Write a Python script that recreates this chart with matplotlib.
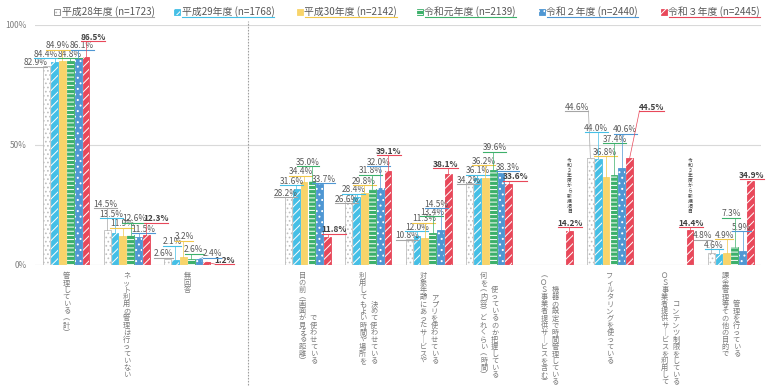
import numpy as np
import matplotlib.pyplot as plt
from matplotlib.lines import Line2D
from matplotlib.patches import Rectangle
from matplotlib.transforms import IdentityTransform

plt.rcParams['font.family'] = ['Noto Sans CJK JP', 'DejaVu Sans']
plt.rcParams['hatch.linewidth'] = 0.7

# ---- data (%), None = 項目なし ----
SERIES = ['平成28年度 (n=1723)', '平成29年度 (n=1768)', '平成30年度 (n=2142)',
          '令和元年度 (n=2139)', '令和２年度 (n=2440)', '令和３年度 (n=2445)']

# 縦書きラベル (列ごと、左→右)
CATEGORIES = [
    ['管理している（計）'],
    ['ネット利用の管理は行っていない'],
    ['無回答'],
    ['目の前（画面が見える距離）', 'で使わせている'],
    ['利用してもよい時間や場所を', '決めて使わせている'],
    ['対象年齢にあったサービスや', 'アプリを使わせている'],
    ['何を（内容）どれくらい（時間）', '使っているのか把握している'],
    ['（ＯＳ事業者提供サービスを含む）', '機器の設定で時間管理している'],
    ['フィルタリングを使っている'],
    ['ＯＳ事業者提供サービスを利用して', 'コンテンツ制限をしている'],
    ['課金管理等その他の目的で', '管理を行っている'],
]
SLOTS = [0, 1, 2, 4, 5, 6, 7, 8, 9, 10, 11]   # 3 は区切り線

H28 = [82.9, 14.5, 2.6, 28.2, 26.6, 10.8, 34.2, None, 44.6, None, 4.8]
H29 = [84.4, 13.5, 2.1, 31.6, 28.4, 12.0, 36.1, None, 44.0, None, 4.6]
H30 = [84.9, 11.9, 3.2, 34.4, 29.8, 11.3, 36.2, None, 36.8, None, 4.9]
R1 = [84.8, 12.6, 2.6, 35.0, 31.8, 13.4, 39.6, None, 37.4, None, 7.3]
R2 = [86.1, 11.5, 2.4, 33.7, 32.0, 14.5, 38.3, None, 40.6, None, 5.9]
R3 = [86.5, 12.3, 1.2, 11.8, 39.1, 38.1, 33.6, 14.2, 44.5, 14.4, 34.9]
VALUES = [H28, H29, H30, R1, R2, R3]

NEW_ITEM_NOTE = '令和３年度から新規項目'

# ---- style ----
FACE = ['#FFFFFF', '#45BFE6', '#F8D46A', '#3DB06B', '#4F97D3', '#E8485A']
EDGE = ['#BFBFBF', '#45BFE6', '#F8D46A', '#3DB06B', '#4F97D3', '#E8485A']
HATCH = ['....', '////', None, '----', '...', '////']
HATCH_COL = ['#BFBFBF', '#FFFFFF', None, '#FFFFFF', '#FFFFFF', '#FFFFFF']
ULINE = ['#A6A6A6', '#45BFE6', '#F2C84B', '#3DB06B', '#4F97D3', '#E8485A']
TXT = '#595959'

# data-label layout: (x offset from group centre, label centre in %)
LABEL_DX = [
    [-0.51, -0.35, -0.14, 0.06, 0.26, 0.44],
    [-0.35, -0.26, -0.08, 0.12, 0.28, 0.48],
    [-0.39, -0.25, -0.05, 0.11, 0.41, 0.62],
    [-0.37, -0.27, -0.12, 0.00, 0.26, 0.43],
    [-0.36, -0.24, -0.07, 0.04, 0.17, 0.34],
    [-0.36, -0.20, -0.08, 0.05, 0.13, 0.28],
    [-0.34, -0.19, -0.09, 0.09, 0.31, 0.43],
    [None, None, None, None, None, 0.34],
    [-0.55, -0.23, -0.08, 0.08, 0.25, 0.69],
    [None, None, None, None, None, 0.34],
    [-0.46, -0.28, -0.11, 0.00, 0.18, 0.35],
]
LABEL_Y = [
    [84.2, 87.9, 91.3, 87.9, 91.3, 95.0],
    [25.4, 21.2, 17.1, 19.2, 15.0, 19.2],
    [4.6, 9.6, 11.7, 6.3, 4.6, 1.9],
    [30.0, 35.0, 38.8, 42.9, 35.8, 14.6],
    [27.5, 31.3, 35.0, 39.2, 42.9, 47.5],
    [12.1, 15.8, 19.2, 22.0, 25.4, 42.0],
    [35.4, 39.2, 43.3, 48.8, 40.8, 36.7],
    [None, None, None, None, None, 17.5],
    [65.8, 57.0, 47.0, 52.5, 56.3, 65.8],
    [None, None, None, None, None, 17.5],
    [12.1, 8.3, 12.5, 21.3, 15.8, 37.5],
]

STEP = 0.13
WIDTH = 0.112

fig = plt.figure(figsize=(7.68, 3.9), dpi=100)
ax = fig.add_axes([35 / 768, 125 / 390, 726 / 768, 240 / 390])
ax.set_xlim(-0.52, 11.5)
ax.set_ylim(0, 1)
for s in ax.spines.values():
    s.set_visible(False)
ax.set_xticks([])
ax.set_yticks([0, 0.5, 1.0])
ax.set_yticklabels(['0%', '50%', '100%'])
ax.tick_params(axis='y', length=0, pad=6, labelsize=6, labelcolor='#7F7F7F')
for yv in (0.5, 1.0):
    ax.axhline(yv, color='#D9D9D9', lw=0.8, zorder=0)
ax.axhline(0, color='#C8C8C8', lw=0.8, zorder=3)

# separator
ax.plot([3, 3], [-0.5, 1.015], transform=ax.get_xaxis_transform(), clip_on=False,
        color='#A0A0A0', lw=0.8, ls=(0, (1.5, 1.2)), zorder=1)

# bars
for i, vals in enumerate(VALUES):
    xs = [SLOTS[c] + (i - 2.5) * STEP for c, v in enumerate(vals) if v is not None]
    hs = [v / 100 for v in vals if v is not None]
    ax.bar(xs, hs, WIDTH, color=FACE[i], edgecolor=EDGE[i], lw=0.6, zorder=2)
    if HATCH[i]:
        ax.bar(xs, hs, WIDTH, color='none', edgecolor=HATCH_COL[i], hatch=HATCH[i],
               lw=0, zorder=2)

# data labels
labels = []
for c, slot in enumerate(SLOTS):
    for i, vals in enumerate(VALUES):
        v = vals[c]
        if v is None:
            continue
        t = ax.text(slot + LABEL_DX[c][i], LABEL_Y[c][i] / 100, f'{v:.1f}%',
                    ha='center', va='center', fontsize=6, color='#404040' if i == 5 else TXT,
                    fontweight='bold' if i == 5 else 'normal', zorder=5)
        labels.append((t, i, slot + (i - 2.5) * STEP, v / 100))

# "新規項目" note above single R3 bars
for c, slot in enumerate(SLOTS):
    if all(VALUES[i][c] is None for i in range(5)):
        for k, ch in enumerate(NEW_ITEM_NOTE):
            ax.annotate(ch, xy=(slot + 2.5 * STEP, 0.4375), xytext=(0, -k * 3.7),
                        textcoords='offset points', ha='center', va='center',
                        fontsize=3.5, color='#404040')

# vertical category labels
VFORM = {'（': '︵', '）': '︶', 'ー': '︱'}
CH_STEP = 5.1  # pt
for c, slot in enumerate(SLOTS):
    cols = CATEGORIES[c]
    n0 = len(cols[0])
    for j, col in enumerate(cols):
        dx = 0 if len(cols) == 1 else (-4.0 if j == 0 else 4.0)
        start = n0 - len(col) if j > 0 else 0
        for k, ch in enumerate(col):
            ax.annotate(VFORM.get(ch, ch), xy=(slot, 0), xycoords=('data', 'axes fraction'),
                        xytext=(dx, -7.9 - (start + k) * CH_STEP), textcoords='offset points',
                        ha='center', va='center', fontsize=5.2, color='#7A7A7A',
                        annotation_clip=False)

# legend
LEG_X = [57, 177, 300, 420, 542, 664]
leg_texts = []
for i, name in enumerate(SERIES):
    x0 = (LEG_X[i] - 3) / 768
    y0 = 1 - 15 / 390
    fig.add_artist(Rectangle((x0, y0), 6 / 768, 6 / 390, transform=fig.transFigure,
                             facecolor=FACE[i], edgecolor=EDGE[i] if i else '#7F7F7F', lw=0.6))
    if HATCH[i]:
        fig.add_artist(Rectangle((x0, y0), 6 / 768, 6 / 390, transform=fig.transFigure,
                                 facecolor='none', edgecolor=HATCH_COL[i], hatch=HATCH[i], lw=0))
    t = fig.text((LEG_X[i] + 4.5) / 768, 1 - 12 / 390, name, ha='left', va='center',
                 fontsize=7.1, color=TXT)
    leg_texts.append((t, i))

# underlines and leader lines (need rendered text extents)
fig.canvas.draw()
r = fig.canvas.get_renderer()
for t, i in leg_texts:
    bb = t.get_window_extent(r)
    fig.add_artist(Line2D([bb.x0, bb.x1], [bb.y0 + 0.5, bb.y0 + 0.5], transform=IdentityTransform(),
                          color=ULINE[i], lw=0.8))
for t, i, xb, top in labels:
    bb = t.get_window_extent(r)
    uy = bb.y0 + 0.8
    fig.add_artist(Line2D([bb.x0 + 0.5, bb.x1 - 0.5], [uy, uy], transform=IdentityTransform(),
                          color=ULINE[i], lw=0.8, zorder=6))
    px, py = ax.transData.transform((xb, top))
    lx = min(max(px, bb.x0 + 0.5), bb.x1 - 0.5)
    if np.hypot(lx - px, uy - py) > 3:
        fig.add_artist(Line2D([lx, px], [uy, py], transform=IdentityTransform(),
                              color=ULINE[i], lw=0.5, zorder=6))

fig.savefig('out.png', dpi=100)
